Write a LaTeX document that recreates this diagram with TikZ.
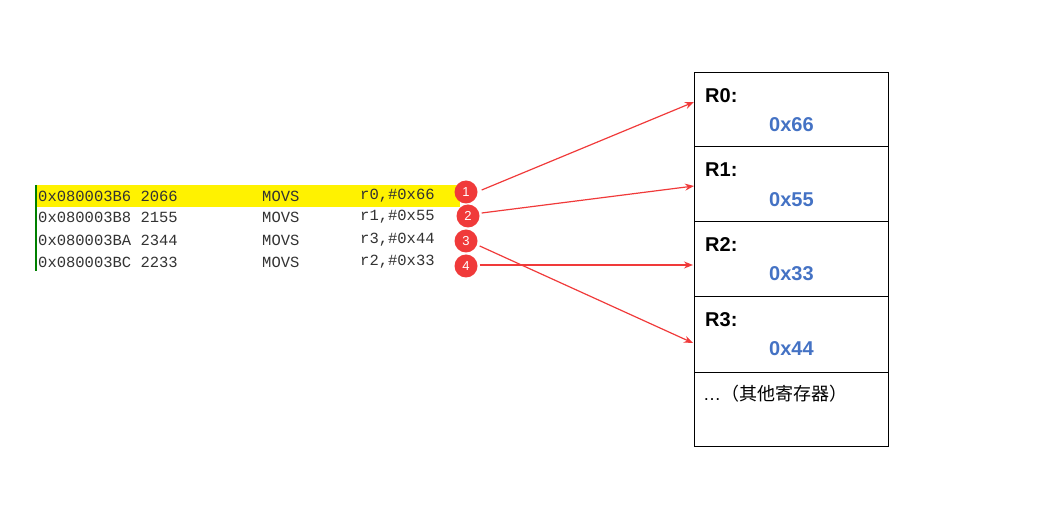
\documentclass[tikz,border=0pt]{standalone}
\usepackage{fontspec}
\setmainfont{Liberation Sans}
\newfontfamily\codefont{Liberation Mono}
\newfontfamily\cjk{Noto Sans CJK SC}
\usetikzlibrary{arrows.meta}
\definecolor{arr}{HTML}{F03A3A}
\definecolor{val}{HTML}{4472C4}
\begin{document}
\begin{tikzpicture}[x=1pt,y=-1pt,
 code/.style={anchor=west,inner sep=0,font=\codefont\fontsize{15.5}{16}\selectfont,text=black!80},
 num/.style={circle,fill=arr,text=white,minimum size=23pt,inner sep=0,font=\fontsize{13}{14}\selectfont},
 reg/.style={anchor=west,inner sep=0,font=\bfseries\fontsize{20}{22}\selectfont},
 val/.style={anchor=west,inner sep=0,text=val,font=\bfseries\fontsize{20}{22}\selectfont},
 conn/.style={draw=arr,line width=1.2pt,-{Stealth[length=9pt,width=7pt]}}]
\useasboundingbox (0,0) rectangle (1049,510);
\fill[yellow] (36,185) rectangle (460,207);
\draw[green!50!black,line width=1.5pt] (36,185) -- (36,271);
\foreach \y/\a/\b/\c [count=\i] in {196/0x080003B6 2066/r0,\#0x66, 217/0x080003B8 2155/r1,\#0x55, 240/0x080003BA 2344/r3,\#0x44, 262/0x080003BC 2233/r2,\#0x33}{}
\node[code] (c1a) at (38,196) {0x080003B6 2066}; \node[code] at (262,196) {MOVS}; \node[code] at (360,196) {r0,\#0x66};
\node[code] (c2a) at (38,217) {0x080003B8 2155}; \node[code] at (262,217) {MOVS}; \node[code] at (360,217) {r1,\#0x55};
\node[code] (c3a) at (38,240) {0x080003BA 2344}; \node[code] at (262,240) {MOVS}; \node[code] at (360,240) {r3,\#0x44};
\node[code] (c4a) at (38,262) {0x080003BC 2233}; \node[code] at (262,262) {MOVS}; \node[code] at (360,262) {r2,\#0x33};
\node[num] (n1) at (466,192) {1};
\node[num] (n2) at (468,216) {2};
\node[num] (n3) at (466,241) {3};
\node[num] (n4) at (466,266) {4};
\draw[line width=1pt] (694,73) rectangle (888,446);
\foreach \y in {147,222,297,372} \draw[line width=1pt] (694,\y) -- (888,\y);
\coordinate (t0) at (694,102); \coordinate (t1) at (694,186);
\coordinate (t2) at (693,265); \coordinate (t3) at (693,343);
\node[reg] at (705,96) {R0:}; \node[val] at (769,125) {0x66};
\node[reg] at (705,170) {R1:}; \node[val] at (769,200) {0x55};
\node[reg] at (705,245) {R2:}; \node[val] at (769,274) {0x33};
\node[reg] at (705,320) {R3:}; \node[val] at (769,349) {0x44};
\node[anchor=west,inner sep=0,font=\fontsize{18}{20}\selectfont] at (703,394) {…\cjk（其他寄存器）};
\draw[conn] (n1.east) ++(4,-2) -- (t0);
\draw[conn] (n2.east) ++(2,-3) -- (t1);
\draw[conn] (n3.east) ++(2,5) -- (t3);
\draw[conn] (n4.east) ++(2,-1) -- (t2);
\end{tikzpicture}
\end{document}
